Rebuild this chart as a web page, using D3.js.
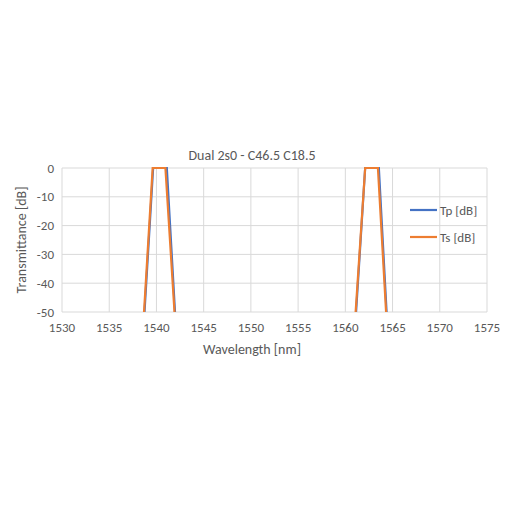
<!DOCTYPE html>
<html><head><meta charset="utf-8">
<script src="https://cdn.jsdelivr.net/npm/d3@7"></script>
<style>body{margin:0;background:#fff}text{font-family:Calibri,Carlito,Lato,sans-serif;fill:#595959}</style>
</head><body><svg id="c" width="510" height="510"></svg>
<script>
// wavelength [nm] / transmittance [dB]; null breaks the line between the two bands
const wl   = [1538.65, 1539.6, 1540.95, 1541.95, null, 1561.05, 1562.1, 1563.45, 1564.35];
const tp   = [-52, 0, 0, -52, null, -52, 0, 0, -52];
const wlTp = [1538.7, 1539.65, 1541.1, 1542.0, null, 1561.1, 1562.1, 1563.55, 1564.4];
const ts   = [-52, 0, 0, -52, null, -52, 0, 0, -52];
const xTicks = d3.range(1530, 1576, 5);
const yTicks = [0, -10, -20, -30, -40, -50];

const svg = d3.select("#c");
const L = 62, R = 487, T = 168, B = 312;
const x = d3.scaleLinear().domain([1530, 1575]).range([L, R]);
const y = d3.scaleLinear().domain([-50, 0]).range([B, T]);

svg.append("defs").append("clipPath").attr("id", "clip")
  .append("rect").attr("x", L).attr("y", T - 3).attr("width", R - L).attr("height", B - T + 3);

svg.append("g").selectAll("line").data(xTicks).join("line")
  .attr("x1", d => x(d)).attr("x2", d => x(d)).attr("y1", T).attr("y2", B)
  .attr("stroke", "#d9d9d9");
svg.append("g").selectAll("line").data(yTicks).join("line")
  .attr("x1", L).attr("x2", R).attr("y1", d => y(d)).attr("y2", d => y(d))
  .attr("stroke", "#d9d9d9");

svg.append("g").selectAll("text").data(xTicks).join("text")
  .attr("x", d => x(d)).attr("y", B + 20).attr("text-anchor", "middle")
  .attr("font-size", 13).text(d => d);
svg.append("g").selectAll("text").data(yTicks).join("text")
  .attr("x", L - 8).attr("y", d => y(d) + 4.5).attr("text-anchor", "end")
  .attr("font-size", 13).text(d => d);

const line = d3.line().defined(d => d[0] != null).x(d => x(d[0])).y(d => y(d[1]));
const series = [
  {name: "Tp [dB]", color: "#4472c4", pts: wlTp.map((w, i) => [w, tp[i]])},
  {name: "Ts [dB]", color: "#ed7d31", pts: wl.map((w, i) => [w, ts[i]])}
];
svg.append("g").attr("clip-path", "url(#clip)").selectAll("path").data(series).join("path")
  .attr("d", d => line(d.pts)).attr("fill", "none")
  .attr("stroke", d => d.color).attr("stroke-width", 2.2);

const lg = svg.append("g").selectAll("g").data(series).join("g")
  .attr("transform", (d, i) => `translate(410,${210 + i * 27})`);
lg.append("line").attr("x1", 0).attr("x2", 27).attr("stroke", d => d.color).attr("stroke-width", 2.2);
lg.append("text").attr("x", 30).attr("y", 4.5).attr("font-size", 13).text(d => d.name);

svg.append("text").attr("x", 252).attr("y", 160).attr("text-anchor", "middle")
  .attr("font-size", 14).text("Dual 2s0 - C46.5 C18.5");
svg.append("text").attr("x", 252).attr("y", 354).attr("text-anchor", "middle")
  .attr("font-size", 14).text("Wavelength [nm]");
svg.append("text").attr("transform", `translate(26,${(T + B) / 2}) rotate(-90)`)
  .attr("text-anchor", "middle").attr("font-size", 14).text("Transmittance [dB]");
</script></body></html>
